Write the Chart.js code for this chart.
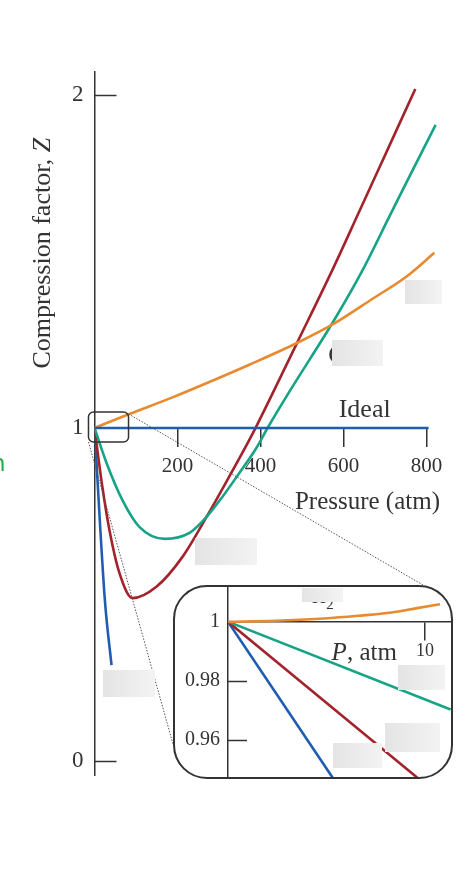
<!DOCTYPE html>
<html>
<head>
<meta charset="utf-8">
<script src="https://cdn.jsdelivr.net/npm/chart.js@4.4.1/dist/chart.umd.min.js"></script>
<style>
  html, body { margin: 0; padding: 0; background: #fff; }
  #wrap { position: relative; width: 474px; height: 876px; overflow: hidden; }
  #mainChart { position: absolute; left: 0; top: 0; }
  #inset { position: absolute; left: 173px; top: 585px; width: 280px; height: 194px; box-sizing: border-box;
           border: 2px solid #333; border-radius: 34px; overflow: hidden; background: #fff; }
  #insetChart { position: absolute; left: 0; top: -30px; }
  .mask { position: absolute; background: linear-gradient(90deg, #e4e4e4, #f3f3f3); }
  .cut { position: absolute; left: -9px; top: 450px; color: #1fae4a; font: 23px "DejaVu Sans", sans-serif; }
</style>
</head>
<body>
<div id="wrap">
  <canvas id="mainChart" width="474" height="876"></canvas>
  <div class="mask" style="left:405px;top:280px;width:37px;height:24px"></div>
  <div class="mask" style="left:332px;top:340px;width:51px;height:26px"></div>
  <div class="mask" style="left:195px;top:538px;width:62px;height:27px"></div>
  <div class="mask" style="left:103px;top:670px;width:52px;height:27px"></div>
  <div id="inset"><canvas id="insetChart" width="276" height="250"></canvas></div>
  <div class="mask" style="left:302px;top:588px;width:41px;height:14px"></div>
  <div class="mask" style="left:398px;top:665px;width:47px;height:25px"></div>
  <div class="mask" style="left:385px;top:723px;width:55px;height:29px"></div>
  <div class="mask" style="left:333px;top:743px;width:49px;height:25px"></div>
  <div class="cut">n</div>
</div>
<script>
// main chart: pressure (atm) vs compression factor Z
const idealP = [0, 805];
const idealZ = [1, 1];
const h2P = [0, 84, 188, 284, 373, 489, 578, 670, 752, 819];
const h2Z = [1.0, 1.042, 1.092, 1.142, 1.19, 1.256, 1.314, 1.388, 1.455, 1.526];
const ch4P = [0, 29, 67, 108, 169, 229, 270, 308, 349, 390, 417, 470, 578, 646, 711, 766, 822];
const ch4Z = [1.0, 0.895, 0.784, 0.703, 0.667, 0.685, 0.733, 0.793, 0.865, 0.94, 1.0, 1.11, 1.325, 1.474, 1.636, 1.773, 1.91];
const c2h4P = [0, 19, 36, 60, 92, 149, 212, 270, 325, 366, 390, 489, 573, 639, 704, 773];
const c2h4Z = [1.0, 0.823, 0.694, 0.565, 0.489, 0.523, 0.613, 0.733, 0.855, 0.948, 1.005, 1.258, 1.474, 1.653, 1.83, 2.018];
const nh3P = [0, 25, 41];
const nh3Z = [1.0, 0.483, 0.288];
const mainTicksX = [200, 400, 600, 800];
const mainTicksY = [0, 1, 2];

// inset: low pressure detail
const insetH2P = [0, 2.4, 4.9, 6.6, 8.3, 9.6, 10.76];
const insetH2Z = [1.0, 1.0003, 1.0011, 1.002, 1.0031, 1.0046, 1.0059];
const insetCh4P = [0, 11.3];
const insetCh4Z = [1.0, 0.9703];
const insetC2h4P = [0, 9.66];
const insetC2h4Z = [1.0, 0.947];
const insetNh3P = [0, 5.34];
const insetNh3Z = [1.0, 0.947];
const insetTicksX = [10];
const insetTicksY = [0.96, 0.98, 1];

const SERIF = '"Liberation Serif", "Times New Roman", serif';
const INK = '#333';
const BLUE = '#1f5db0';
const ORANGE = '#e88a30';
const GREEN = '#17a386';
const RED = '#a3232c';
const INSET = { x: 173, y: 585, w: 280, h: 194 };

function pts(xs, ys) {
    return xs.map((x, i) => ({ x: x, y: ys[i] }));
}

function curve(xs, ys, color, smooth) {
    return {
        data: pts(xs, ys),
        borderColor: color,
        borderWidth: 2.6,
        pointRadius: 0,
        fill: false,
        tension: 0,
        cubicInterpolationMode: smooth ? 'monotone' : 'default'
    };
}

function fixTicks(list) {
    return function (scale) {
        scale.ticks = list.map(v => ({ value: v }));
    };
}

const mainDecor = {
    id: 'mainDecor',
    afterDatasetsDraw(chart) {
        const ctx = chart.ctx;
        const xs = chart.scales.x, ys = chart.scales.y;
        const area = chart.chartArea;
        ctx.save();

        // inward tick marks on the Z axis
        ctx.strokeStyle = INK;
        ctx.lineWidth = 1.5;
        [0, 2].forEach(v => {
            const y = Math.round(ys.getPixelForValue(v)) + 0.5;
            ctx.beginPath();
            ctx.moveTo(area.left, y);
            ctx.lineTo(area.left + 22, y);
            ctx.stroke();
        });

        // small zoom box round the origin
        const bx1 = xs.getPixelForValue(-14.5), bx2 = xs.getPixelForValue(82);
        const by1 = ys.getPixelForValue(1.048), by2 = ys.getPixelForValue(0.958);
        ctx.beginPath();
        ctx.roundRect(bx1, by1, bx2 - bx1, by2 - by1, 5);
        ctx.stroke();

        // dotted lines out to the inset
        ctx.strokeStyle = '#555';
        ctx.lineWidth = 1;
        ctx.setLineDash([1.5, 1.5]);
        ctx.beginPath();
        ctx.moveTo(bx2, by1 + 2);
        ctx.lineTo(INSET.x + INSET.w - 30, INSET.y);
        ctx.moveTo(bx1, by2);
        ctx.lineTo(INSET.x, INSET.y + INSET.h - 35);
        ctx.stroke();
        ctx.setLineDash([]);

        // labels
        ctx.fillStyle = INK;
        ctx.font = '26px ' + SERIF;
        ctx.textAlign = 'center';
        ctx.textBaseline = 'alphabetic';
        ctx.fillText('Ideal', xs.getPixelForValue(651), ys.getPixelForValue(1.033));

        ctx.font = '25px ' + SERIF;
        ctx.textAlign = 'left';
        ctx.fillText('C', xs.getPixelForValue(563), ys.getPixelForValue(1.195));

        // rotated axis title with italic Z
        const part1 = 'Compression factor, ';
        const part2 = 'Z';
        ctx.font = '26px ' + SERIF;
        const w1 = ctx.measureText(part1).width;
        ctx.font = 'italic 26px ' + SERIF;
        const w2 = ctx.measureText(part2).width;
        ctx.translate(area.left - 44.5, ys.getPixelForValue(1.525));
        ctx.rotate(-Math.PI / 2);
        ctx.textAlign = 'left';
        ctx.font = '26px ' + SERIF;
        ctx.fillText(part1, -(w1 + w2) / 2, 0);
        ctx.font = 'italic 26px ' + SERIF;
        ctx.fillText(part2, -(w1 + w2) / 2 + w1, 0);
        ctx.restore();
    }
};

const insetDecor = {
    id: 'insetDecor',
    afterDatasetsDraw(chart) {
        const ctx = chart.ctx;
        const xs = chart.scales.x, ys = chart.scales.y;
        const area = chart.chartArea;
        ctx.save();
        ctx.strokeStyle = INK;
        ctx.lineWidth = 1.5;
        [0.96, 0.98].forEach(v => {
            const y = Math.round(ys.getPixelForValue(v)) + 0.5;
            ctx.beginPath();
            ctx.moveTo(area.left, y);
            ctx.lineTo(area.left + 19, y);
            ctx.stroke();
        });

        ctx.fillStyle = INK;
        ctx.textAlign = 'left';
        ctx.textBaseline = 'alphabetic';
        const px = xs.getPixelForValue(5.26), py = ys.getPixelForValue(0.98705);
        ctx.font = 'italic 25px ' + SERIF;
        ctx.fillText('P', px, py);
        const wp = ctx.measureText('P').width;
        ctx.font = '25px ' + SERIF;
        ctx.fillText(', atm', px + wp, py);

        // label mostly hidden under the grey patch
        const hx = xs.getPixelForValue(4.25), hy = ys.getPixelForValue(1.0063);
        ctx.font = '20px ' + SERIF;
        ctx.fillText('H', hx, hy);
        const wh = ctx.measureText('H').width;
        ctx.font = '15px ' + SERIF;
        ctx.fillText('2', hx + wh, hy + 6);
        ctx.restore();
    }
};

new Chart(document.getElementById('mainChart'), {
    type: 'line',
    data: {
        datasets: [
            curve(idealP, idealZ, BLUE, false),
            curve(h2P, h2Z, ORANGE, true),
            curve(ch4P, ch4Z, GREEN, true),
            curve(c2h4P, c2h4Z, RED, true),
            curve(nh3P, nh3Z, BLUE, true)
        ]
    },
    options: {
        responsive: false,
        animation: false,
        layout: { padding: { left: 61, right: 34, top: 72, bottom: 101 } },
        plugins: { legend: { display: false }, tooltip: { enabled: false } },
        scales: {
            x: {
                type: 'linear',
                min: 0,
                max: 832.5,
                position: { y: 1 },
                afterBuildTicks: fixTicks(mainTicksX),
                grid: { drawOnChartArea: false, drawTicks: true, tickLength: 19, color: INK, lineWidth: 1.5 },
                border: { display: false },
                ticks: { font: { family: SERIF, size: 21 }, color: INK, padding: 7, maxRotation: 0, autoSkip: false },
                title: {
                    display: true,
                    text: 'Pressure (atm)',
                    align: 'end',
                    color: INK,
                    font: { family: SERIF, size: 25 },
                    padding: { top: 1, bottom: 0 }
                }
            },
            y: {
                type: 'linear',
                min: -0.042,
                max: 2.069,
                position: 'left',
                afterBuildTicks: fixTicks(mainTicksY),
                grid: { drawOnChartArea: false, drawTicks: false },
                border: { display: true, color: INK, width: 1.5 },
                ticks: { font: { family: SERIF, size: 23 }, color: INK, padding: 11 }
            }
        }
    },
    plugins: [mainDecor]
});

new Chart(document.getElementById('insetChart'), {
    type: 'line',
    data: {
        datasets: [
            curve(insetH2P, insetH2Z, ORANGE, true),
            curve(insetCh4P, insetCh4Z, GREEN, false),
            curve(insetC2h4P, insetC2h4Z, RED, false),
            curve(insetNh3P, insetNh3Z, BLUE, false)
        ]
    },
    options: {
        responsive: false,
        animation: false,
        layout: { padding: { left: 2, right: 0, top: 22, bottom: 22 } },
        plugins: { legend: { display: false }, tooltip: { enabled: false } },
        scales: {
            x: {
                type: 'linear',
                min: 0,
                max: 11.32,
                position: { y: 1 },
                afterBuildTicks: fixTicks(insetTicksX),
                grid: { drawOnChartArea: false, drawTicks: true, tickLength: 18, color: INK, lineWidth: 1.5 },
                border: { display: true, color: INK, width: 1.5 },
                ticks: { font: { family: SERIF, size: 18 }, color: INK, padding: 1, maxRotation: 0, autoSkip: false }
            },
            y: {
                type: 'linear',
                min: 0.94479,
                max: 1.01444,
                position: 'left',
                afterBuildTicks: fixTicks(insetTicksY),
                grid: { drawOnChartArea: false, drawTicks: false },
                border: { display: true, color: INK, width: 1.5 },
                ticks: {
                    font: { family: SERIF, size: 20 },
                    color: INK,
                    padding: 8,
                    callback: v => String(Number(v.toFixed(2)))
                }
            }
        }
    },
    plugins: [insetDecor]
});
</script>
</body>
</html>
